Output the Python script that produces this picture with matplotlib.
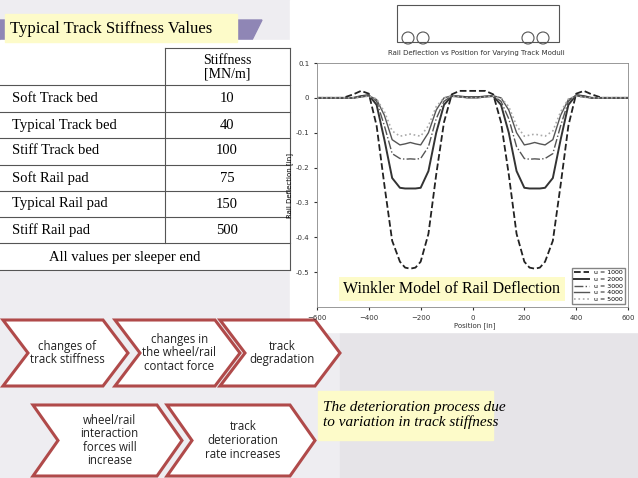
import numpy as np
import matplotlib
matplotlib.use("Agg")
import matplotlib.pyplot as plt
from matplotlib.patches import Rectangle, Polygon

# ---- data ----
table_rows = ["Soft Track bed", "Typical Track bed", "Stiff Track bed",
              "Soft Rail pad", "Typical Rail pad", "Stiff Rail pad"]
table_vals = ["10", "40", "100", "75", "150", "500"]

x_left = [-600, -500, -460, -430, -400, -370, -340, -310, -280, -260, -240, -220, -200,
          -170, -140, -110, -80, -50, -20, 0]
u_labels = ["u = 1000", "u = 2000", "u = 3000", "u = 4000", "u = 5000"]
y_left = {
    "u = 1000": [0, 0, 0.01, 0.02, 0.012, -0.08, -0.25, -0.41, -0.47, -0.487, -0.49, -0.487,
                 -0.47, -0.39, -0.22, -0.07, 0.01, 0.02, 0.02, 0.02],
    "u = 2000": [0, 0, 0, 0.005, 0.008, -0.02, -0.12, -0.23, -0.258, -0.26, -0.26, -0.26,
                 -0.258, -0.21, -0.1, -0.02, 0.005, 0.004, 0.002, 0.002],
    "u = 3000": [0, 0, 0, 0.004, 0.008, -0.01, -0.08, -0.16, -0.174, -0.176, -0.175, -0.176,
                 -0.174, -0.14, -0.06, -0.01, 0.006, 0.004, 0.002, 0.002],
    "u = 4000": [0, 0, 0, 0.002, 0.006, -0.005, -0.05, -0.12, -0.135, -0.132, -0.128, -0.132,
                 -0.135, -0.1, -0.035, 0.0, 0.006, 0.003, 0.0, 0.0],
    "u = 5000": [0, 0, 0, 0.002, 0.005, -0.003, -0.04, -0.095, -0.11, -0.107, -0.104, -0.107,
                 -0.11, -0.08, -0.025, 0.0, 0.005, 0.003, 0.0, 0.0],
}
styles = {"u = 1000": ("--", "#222222", 1.3), "u = 2000": ("-", "#333333", 1.4),
          "u = 3000": ("-.", "#555555", 1.0), "u = 4000": ("-", "#555555", 1.0),
          "u = 5000": (":", "#aaaaaa", 1.2)}

W, H = 638, 478
fig = plt.figure(figsize=(W/100, H/100), dpi=100)
bg = fig.add_axes([0, 0, 1, 1])
bg.set_xlim(0, W); bg.set_ylim(H, 0); bg.axis("off")
bg.add_patch(Rectangle((0, 0), W, H, color="#eeedf1"))
bg.add_patch(Rectangle((340, 330), 300, 150, color="#e6e4e8"))
# banner
bg.add_patch(Polygon([(0, 20), (262, 20), (252, 40), (0, 40)], color="#8f86b5"))
# table
bg.add_patch(Rectangle((0, 40), 290, 230, color="white"))
bg.add_patch(Rectangle((5, 14), 232, 28, color="#fdfbc9"))
bg.text(10, 29, "Typical Track Stiffness Values", fontsize=12, family="Liberation Serif", va="center")
bg.plot([165, 165], [48, 243], color="#555", lw=0.8)
bg.plot([290, 290], [48, 270], color="#555", lw=0.8)
bg.plot([165, 290], [48, 48], color="#555", lw=0.8)
bg.text(227, 67, "Stiffness\n[MN/m]", ha="center", va="center", fontsize=10,
        family="Liberation Serif", linespacing=1.0)
row_y = [98, 125, 151, 178, 204, 230]
for i, (n, v) in enumerate(zip(table_rows, table_vals)):
    top = row_y[i] - 13
    bg.plot([0, 290], [top, top], color="#555", lw=0.8)
    bg.text(12, row_y[i], n, va="center", fontsize=10.5, family="Liberation Serif")
    bg.text(227, row_y[i], v, ha="center", va="center", fontsize=10.5, family="Liberation Serif")
bg.plot([0, 290], [243, 243], color="#555", lw=0.8)
bg.plot([0, 290], [270, 270], color="#555", lw=0.8)
bg.text(125, 257, "All values per sleeper end", ha="center", va="center", fontsize=10.5,
        family="Liberation Serif")
# chart panel
bg.add_patch(Rectangle((290, 0), 348, 332, color="white"))
bg.add_patch(Rectangle((397, 5), 162, 37, fill=False, ec="#555", lw=0.8))
for cx in [408, 423, 528, 543]:
    bg.add_patch(matplotlib.patches.Circle((cx, 38), 6, fill=False, ec="#555", lw=0.8))
bg.text(476, 53, "Rail Deflection vs Position for Varying Track Moduli", ha="center",
        va="center", fontsize=5, color="#333")
bg.text(475, 326, "Position [in]", ha="center", va="center", fontsize=5, color="#333")

# chevrons
def chevron(x0, x1, y0, y1, d=25):
    ym = (y0 + y1) / 2
    pts = [(x0, y0), (x1 - d, y0), (x1, ym), (x1 - d, y1), (x0, y1), (x0 + d, ym)]
    bg.add_patch(Polygon(pts, fc="white", ec="#b04a4a", lw=2.2))
chev = [((3, 128, 320, 386), "changes of\ntrack stiffness"),
        ((115, 240, 320, 386), "changes in\nthe wheel/rail\ncontact force"),
        ((220, 340, 320, 386), "track\ndegradation"),
        ((33, 182, 405, 476), "wheel/rail\ninteraction\nforces will\nincrease"),
        ((167, 315, 405, 476), "track\ndeterioration\nrate increases")]
for (x0, x1, y0, y1), t in chev:
    chevron(x0, x1, y0, y1)
    bg.text((x0 + x1) / 2 + 2, (y0 + y1) / 2, t, ha="center", va="center", fontsize=8.3,
            family="Open Sans", color="#222", linespacing=1.05)
bg.add_patch(Rectangle((318, 391), 175, 49, color="#fdfbc9"))
bg.text(323, 415, "The deterioration process due\nto variation in track stiffness",
        va="center", fontsize=11, style="italic", family="Liberation Serif", linespacing=1.2)

# chart
ax = fig.add_axes([317/W, 1 - 307/H, 311/W, 244/H])
for lab in u_labels:
    xl = np.array(x_left, float); yl = np.array(y_left[lab])
    xs = np.concatenate([xl, -xl[::-1][1:]])
    ys = np.concatenate([yl, yl[::-1][1:]])
    ls, c, lw = styles[lab]
    ax.plot(xs, ys, ls=ls, color=c, lw=lw, label=lab)
ax.set_xlim(-600, 600); ax.set_ylim(-0.6, 0.1)
ax.set_xticks(range(-600, 601, 200)); ax.set_yticks([0.1, 0, -0.1, -0.2, -0.3, -0.4, -0.5])
ax.set_yticklabels(["0.1", "0", "-0.1", "-0.2", "-0.3", "-0.4", "-0.5"])
ax.tick_params(labelsize=5, length=2, colors="#333")
for s in ax.spines.values():
    s.set_color("#888"); s.set_linewidth(0.6)
ax.set_ylabel("Rail Deflection [in]", fontsize=5, labelpad=2)
ax.legend(loc="lower right", fontsize=4.5, handlelength=2.5, borderpad=0.3,
          labelspacing=0.2, frameon=True, fancybox=False, edgecolor="#666")
ax.text(0.085, 0.04, "Winkler Model of Rail Deflection", transform=ax.transAxes,
        fontsize=11.5, family="Liberation Serif", va="bottom",
        bbox=dict(fc="#fdfbc9", ec="none", pad=3))
fig.savefig("out.png", dpi=100)
